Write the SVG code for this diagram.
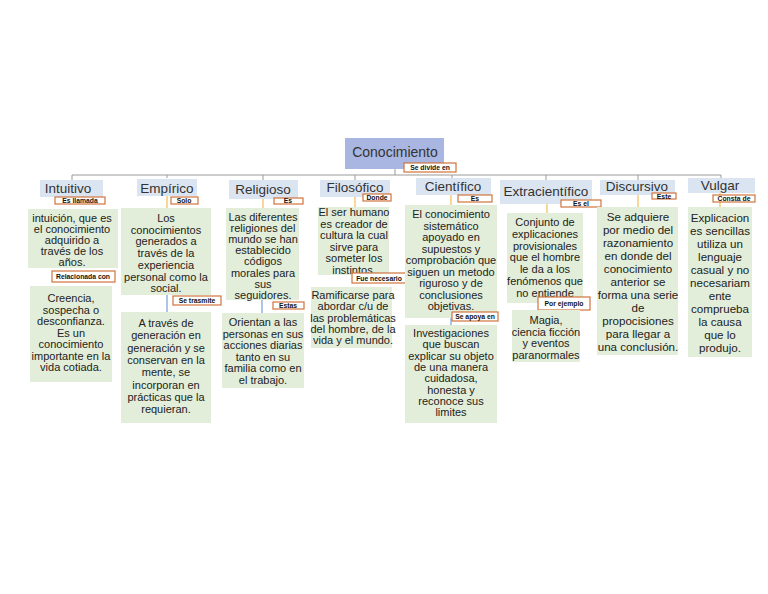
<svg xmlns="http://www.w3.org/2000/svg" width="768" height="594" viewBox="0 0 768 594">
<style>
text{font-family:"Liberation Sans",Arial,sans-serif;}
.hd{fill:#dbe5f1;}
.hdt{font-size:13.5px;fill:#333;text-anchor:middle;}
.gb{fill:#e2eed9;}
.bt{font-size:11px;fill:#222;text-anchor:middle;}
.bt2{font-size:11.6px;fill:#222;text-anchor:middle;}
.lb{fill:#fff;stroke:#d0743c;stroke-width:1.2;}
.lt{font-size:6.8px;fill:#111;text-anchor:middle;font-weight:bold;}
.gl{stroke:#9a9a9a;stroke-width:1;fill:none;}
.ol{stroke:#f0b030;stroke-width:1;fill:none;}
.bl{stroke:#5b8bd0;stroke-width:1;fill:none;}
</style>
<rect width="768" height="594" fill="#fff"/>
<g id="connectors">
<line class="gl" x1="395" y1="168" x2="395" y2="175"/>
<line class="gl" x1="72" y1="175" x2="721" y2="175"/>
<line class="gl" x1="72" y1="175" x2="72" y2="180"/>
<line class="gl" x1="167" y1="175" x2="167" y2="178"/>
<line class="gl" x1="263" y1="175" x2="263" y2="180"/>
<line class="gl" x1="355" y1="175" x2="355" y2="180"/>
<line class="gl" x1="452" y1="175" x2="452" y2="178"/>
<line class="gl" x1="546" y1="175" x2="546" y2="180"/>
<line class="gl" x1="638" y1="175" x2="638" y2="180"/>
<line class="gl" x1="721" y1="175" x2="721" y2="178"/>
<line class="ol" x1="167" y1="196" x2="167" y2="208"/>
<line class="ol" x1="263" y1="199" x2="263" y2="208"/>
<line class="ol" x1="355" y1="197" x2="355" y2="207"/>
<line class="ol" x1="451" y1="195" x2="451" y2="205"/>
<line class="ol" x1="547" y1="204" x2="547" y2="213"/>
<line class="ol" x1="638" y1="195" x2="638" y2="207"/>
<line class="ol" x1="720" y1="193" x2="720" y2="207"/>
<line class="bl" x1="167" y1="295" x2="167" y2="312"/>
<line class="bl" x1="262" y1="300" x2="262" y2="313"/>
<line class="bl" x1="451" y1="318" x2="451" y2="325"/>
</g>
<g id="conocimiento">
<rect x="345" y="138" width="99" height="31" fill="#a9b6e2"/>
<text x="395" y="157" style="font-size:14px;fill:#333;text-anchor:middle">Conocimiento</text>
<rect class="lb" x="404" y="163" width="52" height="9"/>
<text class="lt" x="430" y="170">Se divide en</text>
</g>
<g id="intuitivo">
<rect class="hd" x="40" y="180" width="63" height="17"/>
<text class="hdt" x="68" y="193">Intuitivo</text>
<rect class="lb" x="55" y="197" width="50" height="7"/>
<text class="lt" x="80" y="203">Es llamada</text>
<rect class="gb" x="28" y="209" width="90" height="59"/>
<text class="bt" x="72" y="222">intuición, que es</text>
<text class="bt" x="72" y="233">el conocimiento</text>
<text class="bt" x="72" y="244">adquirido a</text>
<text class="bt" x="72" y="255">través de los</text>
<text class="bt" x="72" y="266">años.</text>
<rect class="lb" x="52" y="271" width="63" height="11"/>
<text class="lt" x="83" y="279">Relacionada con</text>
<rect class="gb" x="30" y="286" width="82" height="96"/>
<text class="bt" x="71" y="302">Creencia,</text>
<text class="bt" x="71" y="313.5">sospecha o</text>
<text class="bt" x="71" y="325">desconfianza.</text>
<text class="bt" x="71" y="336.5">Es un</text>
<text class="bt" x="71" y="348">conocimiento</text>
<text class="bt" x="71" y="359.5">importante en la</text>
<text class="bt" x="71" y="371">vida cotiada.</text>
</g>
<g id="empirico">
<rect class="hd" x="137" y="179" width="60" height="17"/>
<text class="hdt" x="167" y="193">Empírico</text>
<rect class="lb" x="171" y="197" width="27" height="7"/>
<text class="lt" x="184" y="203">Solo</text>
<rect class="gb" x="121" y="208" width="90" height="87"/>
<text class="bt" x="166" y="222">Los</text>
<text class="bt" x="166" y="233.7">conocimientos</text>
<text class="bt" x="166" y="245.4">generados a</text>
<text class="bt" x="166" y="257.1">través de la</text>
<text class="bt" x="166" y="268.8">experiencia</text>
<text class="bt" x="166" y="280.5">personal como la</text>
<text class="bt" x="166" y="292.2">social.</text>
<rect class="lb" x="173" y="296" width="48" height="9"/>
<text class="lt" x="197" y="303">Se trasmite</text>
<rect class="gb" x="121" y="312" width="90" height="111"/>
<text class="bt" x="166" y="327">A través de</text>
<text class="bt" x="166" y="339.3">generación en</text>
<text class="bt" x="166" y="351.6">generación y se</text>
<text class="bt" x="166" y="363.9">conservan en la</text>
<text class="bt" x="166" y="376.2">mente, se</text>
<text class="bt" x="166" y="388.5">incorporan en</text>
<text class="bt" x="166" y="400.8">prácticas que la</text>
<text class="bt" x="166" y="413.1">requieran.</text>
</g>
<g id="religioso">
<rect class="hd" x="229" y="180" width="69" height="19"/>
<text class="hdt" x="263" y="194">Religioso</text>
<rect class="lb" x="274" y="198" width="29" height="6"/>
<text class="lt" x="288" y="203">Es</text>
<rect class="gb" x="226" y="208" width="73" height="92"/>
<text class="bt" x="263" y="221">Las diferentes</text>
<text class="bt" x="263" y="232.1">religiones del</text>
<text class="bt" x="263" y="243.2">mundo se han</text>
<text class="bt" x="263" y="254.3">establecido</text>
<text class="bt" x="263" y="265.4">códigos</text>
<text class="bt" x="263" y="276.5">morales para</text>
<text class="bt" x="263" y="287.6">sus</text>
<text class="bt" x="263" y="298.7">seguidores.</text>
<rect class="lb" x="273" y="302" width="31" height="7"/>
<text class="lt" x="288" y="308">Estas</text>
<rect class="gb" x="222" y="313" width="82" height="75"/>
<text class="bt" x="263" y="326">Orientan a las</text>
<text class="bt" x="263" y="337.6">personas en sus</text>
<text class="bt" x="263" y="349.2">acciones diarias</text>
<text class="bt" x="263" y="360.8">tanto en su</text>
<text class="bt" x="263" y="372.4">familia como en</text>
<text class="bt" x="263" y="384">el trabajo.</text>
</g>
<g id="filosofico">
<rect class="hd" x="320" y="180" width="70" height="17"/>
<text class="hdt" x="355" y="192">Filosófico</text>
<rect class="lb" x="363" y="194" width="28" height="7"/>
<text class="lt" x="377" y="200">Donde</text>
<rect class="gb" x="318" y="207" width="71" height="68"/>
<text class="bt" x="354" y="216">El ser humano</text>
<text class="bt" x="354" y="227.6">es creador de</text>
<text class="bt" x="354" y="239.2">cultura la cual</text>
<text class="bt" x="354" y="250.8">sirve para</text>
<text class="bt" x="354" y="262.4">someter los</text>
<text class="bt" x="354" y="274">instintos.</text>
<rect class="lb" x="352" y="273" width="55" height="10"/>
<text class="lt" x="379" y="280.5">Fue necesario</text>
<rect class="gb" x="311" y="287" width="81" height="61"/>
<text class="bt" x="353" y="299">Ramificarse para</text>
<text class="bt" x="353" y="310.3">abordar c/u de</text>
<text class="bt" x="353" y="321.6">las problemáticas</text>
<text class="bt" x="353" y="332.9">del hombre, de la</text>
<text class="bt" x="353" y="344.2">vida y el mundo.</text>
</g>
<g id="cientifico">
<rect class="hd" x="416" y="178" width="75" height="17"/>
<text class="hdt" x="453" y="191">Científico</text>
<rect class="lb" x="458" y="195" width="34" height="7"/>
<text class="lt" x="475" y="201">Es</text>
<rect class="gb" x="405" y="205" width="92" height="113"/>
<text class="bt" x="451" y="218">El conocimiento</text>
<text class="bt" x="451" y="229.5">sistemático</text>
<text class="bt" x="451" y="241">apoyado en</text>
<text class="bt" x="451" y="252.5">supuestos y</text>
<text class="bt" x="451" y="264">comprobación que</text>
<text class="bt" x="451" y="275.5">siguen un metodo</text>
<text class="bt" x="451" y="287">riguroso y de</text>
<text class="bt" x="451" y="298.5">conclusiones</text>
<text class="bt" x="451" y="310">objetivas.</text>
<rect class="lb" x="452" y="312" width="46" height="9"/>
<text class="lt" x="475" y="319">Se apoya en</text>
<rect class="gb" x="405" y="325" width="92" height="98"/>
<text class="bt" x="451" y="337">Investigaciones</text>
<text class="bt" x="451" y="348.3">que buscan</text>
<text class="bt" x="451" y="359.6">explicar su objeto</text>
<text class="bt" x="451" y="370.9">de una manera</text>
<text class="bt" x="451" y="382.2">cuidadosa,</text>
<text class="bt" x="451" y="393.5">honesta y</text>
<text class="bt" x="451" y="404.8">reconoce sus</text>
<text class="bt" x="451" y="416.1">limites</text>
</g>
<g id="extracientifico">
<rect class="hd" x="500" y="180" width="92" height="24"/>
<text class="hdt" x="546" y="196">Extracientífico</text>
<rect class="lb" x="561" y="200" width="40" height="7"/>
<text class="lt" x="581" y="206">Es el</text>
<rect class="gb" x="507" y="213" width="76" height="90"/>
<text class="bt" x="545" y="226">Conjunto de</text>
<text class="bt" x="545" y="237.8">explicaciones</text>
<text class="bt" x="545" y="249.6">provisionales</text>
<text class="bt" x="545" y="261.4">que el hombre</text>
<text class="bt" x="545" y="273.2">le da a los</text>
<text class="bt" x="545" y="285">fenómenos que</text>
<text class="bt" x="545" y="296.8">no entiende</text>
<rect class="lb" x="538" y="297" width="52" height="13"/>
<text class="lt" x="564" y="306">Por ejemplo</text>
<rect class="gb" x="512" y="310" width="68" height="52"/>
<text class="bt" x="546" y="324">Magia,</text>
<text class="bt" x="546" y="335.7">ciencia ficción</text>
<text class="bt" x="546" y="347.4">y eventos</text>
<text class="bt" x="546" y="359.1">paranormales</text>
</g>
<g id="discursivo">
<rect class="hd" x="600" y="180" width="75" height="15"/>
<text class="hdt" x="637" y="191">Discursivo</text>
<rect class="lb" x="652" y="193" width="24" height="6"/>
<text class="lt" x="664" y="198.5">Este</text>
<rect class="gb" x="597" y="207" width="81" height="148"/>
<text class="bt2" x="638" y="221">Se adquiere</text>
<text class="bt2" x="638" y="234">por medio del</text>
<text class="bt2" x="638" y="247">razonamiento</text>
<text class="bt2" x="638" y="260">en donde del</text>
<text class="bt2" x="638" y="273">conocimiento</text>
<text class="bt2" x="638" y="286">anterior se</text>
<text class="bt2" x="638" y="299">forma una serie</text>
<text class="bt2" x="638" y="312">de</text>
<text class="bt2" x="638" y="325">propocisiones</text>
<text class="bt2" x="638" y="338">para llegar a</text>
<text class="bt2" x="638" y="351">una conclusión.</text>
</g>
<g id="vulgar">
<rect class="hd" x="688" y="178" width="67" height="15"/>
<text class="hdt" x="720" y="190">Vulgar</text>
<rect class="lb" x="713" y="195" width="42" height="7"/>
<text class="lt" x="734" y="201">Consta de</text>
<rect class="gb" x="688" y="207" width="64" height="150"/>
<text class="bt2" x="720" y="222">Explicacion</text>
<text class="bt2" x="720" y="235">es sencillas</text>
<text class="bt2" x="720" y="248">utiliza un</text>
<text class="bt2" x="720" y="261">lenguaje</text>
<text class="bt2" x="720" y="274">casual y no</text>
<text class="bt2" x="720" y="287">necesariam</text>
<text class="bt2" x="720" y="300">ente</text>
<text class="bt2" x="720" y="313">comprueba</text>
<text class="bt2" x="720" y="326">la causa</text>
<text class="bt2" x="720" y="339">que lo</text>
<text class="bt2" x="720" y="352">produjo.</text>
</g>
</svg>
